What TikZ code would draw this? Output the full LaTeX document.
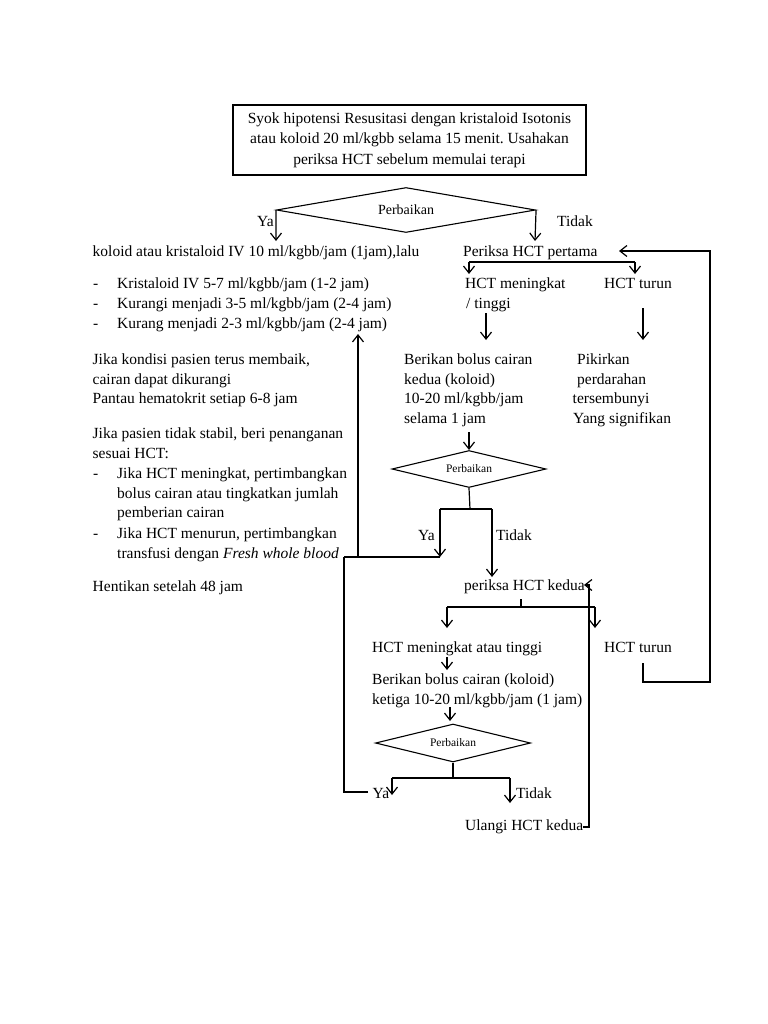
\documentclass[tikz,border=0pt]{standalone}
\usepackage{fontspec}
\setmainfont{Liberation Serif}
\usetikzlibrary{arrows.meta,shapes.geometric}
\frenchspacing
\begin{document}
\begin{tikzpicture}[x=1bp,y=-1bp,
  txt/.style={anchor=base west,inner sep=0pt,font=\fontsize{15.5bp}{20bp}\selectfont},
  dia/.style={diamond,draw,line width=1.1bp,inner sep=0pt,aspect=6},
  ln/.style={line width=1.2bp},
  arr/.style={ln,-{Straight Barb[length=7bp,width=11bp]}}]
\fill[white] (0,0) rectangle (768,1024);
\useasboundingbox (0,0) rectangle (768,1024);

% top box
\node[draw,ln,minimum width=353bp,minimum height=70bp,inner sep=0pt,align=center,
  font=\fontsize{15.5bp}{20.5bp}\selectfont] (top) at (409.5,140)
  {Syok hipotensi Resusitasi dengan kristaloid Isotonis\\
   atau koloid 20 ml/kgbb selama 15 menit. Usahakan\\
   periksa HCT sebelum memulai terapi};

% diamonds
\node[dia,minimum width=259bp,minimum height=45bp,font=\fontsize{14bp}{16bp}\selectfont] (d1) at (406,210) {Perbaikan};
\node[dia,aspect=4,minimum width=154bp,minimum height=37bp,font=\fontsize{11.5bp}{13bp}\selectfont] (d2) at (469,469) {Perbaikan};
\node[dia,aspect=4,minimum width=155bp,minimum height=38bp,font=\fontsize{11.5bp}{13bp}\selectfont] (d3) at (453,743) {Perbaikan};

% labels around d1
\node[txt] (ya1) at (257,226) {Ya};
\node[txt] (tidak1) at (557,226) {Tidak};

% left column
\node[txt] (kol) at (92.5,256) {koloid atau kristaloid IV 10 ml/kgbb/jam (1jam),lalu};
\node[txt] (da) at (93,288) {-};
\node[txt] (la) at (117,288) {Kristaloid IV 5-7 ml/kgbb/jam (1-2 jam)};
\node[txt] (db) at (93,308) {-};
\node[txt] (lb) at (117,308) {Kurangi menjadi 3-5 ml/kgbb/jam (2-4 jam)};
\node[txt] (dc) at (93,328) {-};
\node[txt] (lc) at (117,328) {Kurang menjadi 2-3 ml/kgbb/jam (2-4 jam)};
\node[txt] (j1) at (92.5,364) {Jika kondisi pasien terus membaik,};
\node[txt] (j2) at (92.5,384) {cairan dapat dikurangi};
\node[txt] (j3) at (92.5,403) {Pantau hematokrit setiap 6-8 jam};
\node[txt] (p1) at (92.5,438) {Jika pasien tidak stabil, beri penanganan};
\node[txt] (p2) at (92.5,458) {sesuai HCT:};
\node[txt] (dd) at (93,478) {-};
\node[txt] (p3) at (117,478) {Jika HCT meningkat, pertimbangkan};
\node[txt] (p4) at (117,498) {bolus cairan atau tingkatkan jumlah};
\node[txt] (p5) at (117,517) {pemberian cairan};
\node[txt] (de) at (93,538) {-};
\node[txt] (p6) at (117,538) {Jika HCT menurun, pertimbangkan};
\node[txt] (p7) at (117,558) {transfusi dengan \textit{Fresh whole blood}};
\node[txt] (hen) at (92.5,591) {Hentikan setelah 48 jam};

% right column
\node[txt] (per1) at (463,256) {Periksa HCT pertama};
\node[txt] (hm1) at (465,288) {HCT meningkat};
\node[txt] (hm1b) at (466,308) {/ tinggi};
\node[txt] (ht1) at (604,288) {HCT turun};
\node[txt] (b1) at (404,364) {Berikan bolus cairan};
\node[txt] (b2) at (404,384) {kedua (koloid)};
\node[txt] (b3) at (404,403) {10-20 ml/kgbb/jam};
\node[txt] (b4) at (404,423) {selama 1 jam};
\node[txt] (k1) at (577,364) {Pikirkan};
\node[txt] (k2) at (577,384) {perdarahan};
\node[txt] (k3) at (572.5,403) {tersembunyi};
\node[txt] (k4) at (573,423) {Yang signifikan};
\node[txt] (ya2) at (418,540) {Ya};
\node[txt] (tidak2) at (496,540) {Tidak};
\node[txt] (per2) at (464,590) {periksa HCT kedua};
\node[txt] (hm2) at (372,652) {HCT meningkat atau tinggi};
\node[txt] (ht2) at (604,652) {HCT turun};
\node[txt] (c1) at (372,684) {Berikan bolus cairan (koloid)};
\node[txt] (c2) at (372,704) {ketiga 10-20 ml/kgbb/jam (1 jam)};
\node[txt] (ya3) at (372.5,798) {Ya};
\node[txt] (tidak3) at (516,798) {Tidak};
\node[txt] (ul) at (465,830) {Ulangi HCT kedua};

% coordinates
\coordinate (a1) at (276,241);
\coordinate (a2) at (535,241);
\coordinate (t1) at (643,663);
\coordinate (t1b) at (643,682);
\coordinate (t1c) at (710,682);
\coordinate (t1d) at (710,251);
\coordinate (t1e) at (619,251);
\coordinate (s1l) at (469,262);
\coordinate (s1r) at (635,262);
\coordinate (s1la) at (469,274);
\coordinate (s1ra) at (635,274);
\coordinate (m1a) at (486,313);
\coordinate (m1b) at (486,340);
\coordinate (n1a) at (643,308);
\coordinate (n1b) at (643,340);
\coordinate (q1) at (469,432);
\coordinate (j2s) at (470,509);
\coordinate (j2l) at (440,509);
\coordinate (j2r) at (492,509);
\coordinate (j2la) at (440,557);
\coordinate (j2ra) at (492,577);
\coordinate (h1) at (344,557);
\coordinate (h2) at (358,557);
\coordinate (h3) at (358,334);
\coordinate (y3a) at (368,792);
\coordinate (y3b) at (344,792);
\coordinate (u1) at (583,827);
\coordinate (u2) at (589,827);
\coordinate (u3) at (589,585);
\coordinate (u4) at (584,585);
\coordinate (r1) at (521,599);
\coordinate (r2) at (521,607);
\coordinate (r2l) at (447,607);
\coordinate (r2r) at (595,607);
\coordinate (r2la) at (447,628);
\coordinate (r2ra) at (595,628);
\coordinate (v1) at (447,657);
\coordinate (v2) at (447,670);
\coordinate (w1) at (450,707);
\coordinate (w2) at (450,721);
\coordinate (x1) at (453,778);
\coordinate (x1l) at (392,778);
\coordinate (x1r) at (510,778);
\coordinate (x1la) at (392,795);
\coordinate (x1ra) at (510,803);

% connectors
\draw[arr] (d1.west) -- (a1);
\draw[arr] (d1.east) -- (a2);
\draw[arr] (t1) -- (t1b) -- (t1c) -- (t1d) -- (t1e);
\draw[ln] (s1l) -- (s1r);
\draw[arr] (s1l) -- (s1la);
\draw[arr] (s1r) -- (s1ra);
\draw[arr] (m1a) -- (m1b);
\draw[arr] (n1a) -- (n1b);
\draw[arr] (q1) -- (d2.north);
\draw[ln] (d2.south) -- (j2s);
\draw[ln] (j2l) -- (j2r);
\draw[arr] (j2l) -- (j2la);
\draw[arr] (j2r) -- (j2ra);
\draw[ln] (h1) -- (j2la);
\draw[arr] (h2) -- (h3);
\draw[ln] (y3a) -- (y3b) -- (h1);
\draw[arr] (u1) -- (u2) -- (u3) -- (u4);
\draw[ln] (r1) -- (r2);
\draw[ln] (r2l) -- (r2r);
\draw[arr] (r2l) -- (r2la);
\draw[arr] (r2r) -- (r2ra);
\draw[arr] (v1) -- (v2);
\draw[arr] (w1) -- (w2);
\draw[ln] (d3.south) -- (x1);
\draw[ln] (x1l) -- (x1r);
\draw[arr] (x1l) -- (x1la);
\draw[arr] (x1r) -- (x1ra);
\end{tikzpicture}
\end{document}
